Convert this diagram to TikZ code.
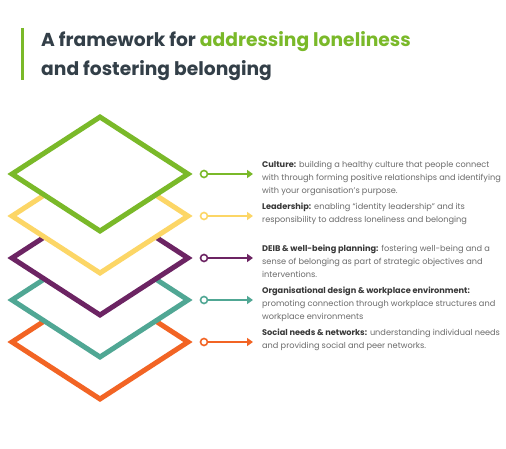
\documentclass[tikz,border=0pt]{standalone}
\usepackage{fontspec}
\setmainfont{Poppins}
\usetikzlibrary{arrows.meta}
\definecolor{cgreen}{HTML}{7AB929}
\definecolor{cyellow}{HTML}{FCD666}
\definecolor{cpurple}{HTML}{6C2463}
\definecolor{cteal}{HTML}{50A794}
\definecolor{corange}{HTML}{F26424}
\definecolor{ctitle}{HTML}{333F48}
\definecolor{cbody}{HTML}{6B6B6B}
\definecolor{chead}{HTML}{383838}
\newcommand\hd[1]{\textbf{\color{chead}#1}}
\begin{document}
\begin{tikzpicture}[x=1pt,y=-1pt,
  layer/.style={draw=#1, line width=5pt, fill=white, miter limit=10},
  conn/.style={draw=#1, line width=1.6pt, -{Triangle[length=6pt,width=8pt]}},
  ring/.style={circle, draw=#1, line width=1.6pt, fill=white, inner sep=0pt, minimum size=7pt},
  desc/.style={anchor=north west, align=left, font=\fontsize{8.2}{13}\selectfont, text=cbody, inner sep=0pt},
  ttl/.style={anchor=base west, inner sep=0pt, text=ctitle, font=\bfseries\fontsize{18.7}{24}\selectfont},
]
\useasboundingbox (0,0) rectangle (506,449);
\fill[white] (0,0) rectangle (506,449);
% title
\draw[cgreen, line width=3pt] (22,28) -- (22,80);
\node[ttl] (title1) at (41,47) {A framework for \textcolor{cgreen}{addressing loneliness}};
\node[ttl] (title2) at (41,76) {and fostering belonging};
% layers, bottom first
\foreach \c/\y in {corange/342, cteal/300, cpurple/258, cyellow/216, cgreen/174}{
  \draw[layer=\c] (12,\y) -- (100,\y-57) -- (188,\y) -- (100,\y+57) -- cycle;
}
% connectors
\foreach \c/\y/\n in {cgreen/174/1, cyellow/216/2, cpurple/258/3, cteal/300/4, corange/342/5}{
  \coordinate (end\n) at (253,\y);
  \node[ring=\c] (ring\n) at (204,\y) {};
  \draw[conn=\c] (ring\n) -- (end\n);
}
% descriptions
\node[desc] (d1) at (262,161) {\hd{Culture:} building a healthy culture that people connect\\with through forming positive relationships and identifying\\with your organisation’s purpose.};
\node[desc] (d2) at (262,203) {\hd{Leadership:} enabling “identity leadership” and its\\responsibility to address loneliness and belonging};
\node[desc] (d3) at (262,245) {\hd{DEIB \& well-being planning:} fostering well-being and a\\sense of belonging as part of strategic objectives and\\interventions.};
\node[desc] (d4) at (262,287) {\hd{Organisational design \& workplace environment:}\\promoting connection through workplace structures and\\workplace environments};
\node[desc] (d5) at (262,329) {\hd{Social needs \& networks:} understanding individual needs\\and providing social and peer networks.};
\end{tikzpicture}
\end{document}
